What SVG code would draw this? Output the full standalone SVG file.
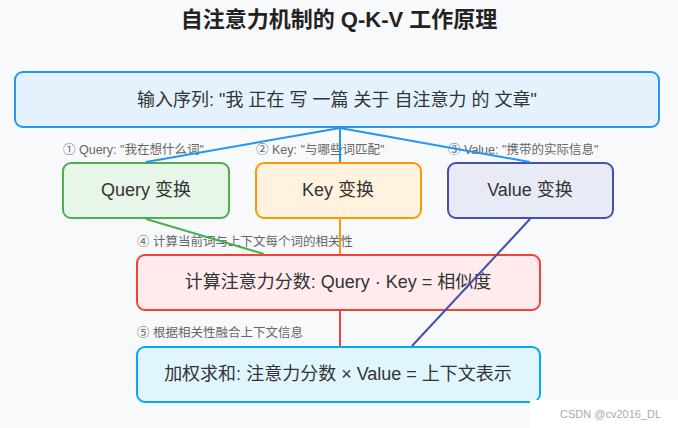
<svg xmlns="http://www.w3.org/2000/svg" width="678" height="428" viewBox="0 0 678 428">
<style>
text{font-family:"Liberation Sans","Noto Sans CJK SC",sans-serif;}
.n{font-size:18px;fill:#333;text-anchor:middle;dominant-baseline:central}
.l{font-size:12.5px;fill:#666}
.b{stroke-width:2}
</style>
<rect width="678" height="428" fill="#f8f9fb"/>
<text x="339" y="19" text-anchor="middle" dominant-baseline="central" font-size="22" font-weight="bold" fill="#222">自注意力机制的 Q-K-V 工作原理</text>
<g id="input"><rect x="15" y="72" width="644" height="55" rx="8" fill="#e3f2fd" stroke="#2196f3" class="b"/><text class="n" x="337" y="100">输入序列: "我 正在 写 一篇 关于 自注意力 的 文章"</text></g>
<text class="l" x="63" y="154">① Query: "我在想什么词"</text>
<text class="l" x="256" y="154">② Key: "与哪些词匹配"</text>
<text class="l" x="448" y="154">③ Value: "携带的实际信息"</text>
<g id="query"><rect x="63" y="163" width="166" height="55" rx="8" fill="#e8f5e9" stroke="#4caf50" class="b"/><text class="n" x="146" y="190">Query 变换</text></g>
<g id="key"><rect x="256" y="163" width="165" height="55" rx="8" fill="#fff3e0" stroke="#ff9800" class="b"/><text class="n" x="338" y="190">Key 变换</text></g>
<g id="value"><rect x="448" y="163" width="165" height="55" rx="8" fill="#e8eaf6" stroke="#3f51b5" class="b"/><text class="n" x="530" y="190">Value 变换</text></g>
<text class="l" x="137" y="246">④ 计算当前词与上下文每个词的相关性</text>
<g id="score"><rect x="137" y="255" width="403" height="55" rx="8" fill="#ffebee" stroke="#f44336" class="b"/><text class="n" x="338" y="282">计算注意力分数: Query · Key = 相似度</text></g>
<text class="l" x="137" y="337">⑤ 根据相关性融合上下文信息</text>
<g id="weighted"><rect x="137" y="347" width="403" height="55" rx="8" fill="#e1f5fe" stroke="#03a9f4" class="b"/><text class="n" x="338" y="374">加权求和: 注意力分数 × Value = 上下文表示</text></g>
<g id="connectors" fill="none" stroke-width="2">
<path d="M340 128L146 162M340 128V162M340 128L530 162" stroke="#2196f3"/>
<path d="M146 219L264 254" stroke="#4caf50"/>
<path d="M340 219V254" stroke="#ff9800"/>
<path d="M530 219L412 346" stroke="#3f51b5"/>
<path d="M340 311V346" stroke="#f44336"/>
</g>
<rect x="530" y="400" width="148" height="28" fill="#fff"/>
<text x="560" y="418" font-size="11" fill="#aaa">CSDN @cv2016_DL</text>
</svg>
